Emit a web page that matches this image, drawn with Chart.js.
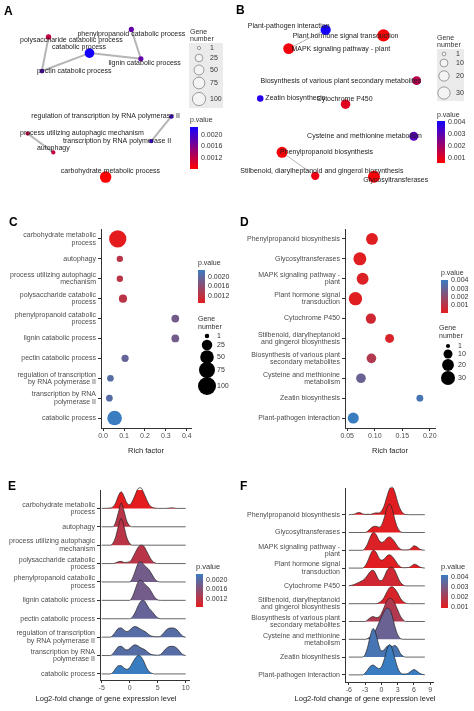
<!DOCTYPE html>
<html><head><meta charset="utf-8">
<script src="https://cdn.jsdelivr.net/npm/chart.js@4.4.1/dist/chart.umd.min.js"></script>
<style>
body{margin:0;background:#fff;width:474px;height:711px;position:relative;overflow:hidden;font-family:"Liberation Sans",Arial,sans-serif}
.p{position:absolute}
.lt{position:absolute;font:bold 12px "Liberation Sans",Arial,sans-serif;color:#000}
</style></head><body>
<div class="p" style="left:0;top:0;width:237px;height:215px"><canvas id="cA"></canvas></div>
<div class="p" style="left:237px;top:0;width:237px;height:215px"><canvas id="cB"></canvas></div>
<div class="p" style="left:0;top:215px;width:237px;height:240px"><canvas id="cC"></canvas></div>
<div class="p" style="left:237px;top:215px;width:237px;height:240px"><canvas id="cD"></canvas></div>
<div class="p" style="left:0;top:480px;width:237px;height:231px"><canvas id="cE"></canvas></div>
<div class="p" style="left:237px;top:480px;width:237px;height:231px"><canvas id="cF"></canvas></div>
<div class="lt" style="left:4px;top:4px">A</div>
<div class="lt" style="left:236px;top:3px">B</div>
<div class="lt" style="left:9px;top:215px">C</div>
<div class="lt" style="left:240px;top:215px">D</div>
<div class="lt" style="left:8px;top:479px">E</div>
<div class="lt" style="left:240px;top:479px">F</div>
<script>
// ---- GO terms (panels A, C, E)
const labelsGO = [['carbohydrate metabolic','process'],'autophagy',['process utilizing autophagic','mechanism'],
  ['polysaccharide catabolic','process'],['phenylpropanoid catabolic','process'],'lignin catabolic process',
  'pectin catabolic process',['regulation of transcription','by RNA polymerase II'],['transcription by RNA','polymerase II'],'catabolic process']
const richGO = [0.07, 0.08, 0.08, 0.095, 0.345, 0.345, 0.105, 0.035, 0.03, 0.055]
const genesGO = [90, 5, 5, 12, 10, 10, 8, 6, 6, 60]
const pvalGO = [0.0010, 0.0013, 0.0013, 0.0013, 0.0018, 0.0018, 0.0019, 0.0020, 0.0020, 0.0022]

// ---- KEGG pathways (panels B, D, F)
const labelsKEGG = ['Phenylpropanoid biosynthesis','Glycosyltransferases',['MAPK signaling pathway -','plant'],
  ['Plant hormone signal','transduction'],'Cytochrome P450',['Stilbenoid, diarylheptanoid','and gingerol biosynthesis'],
  ['Biosynthesis of various plant','secondary metabolites'],['Cysteine and methionine','metabolism'],'Zeatin biosynthesis','Plant-pathogen interaction']
const richKEGG = [0.095, 0.073, 0.078, 0.065, 0.093, 0.127, 0.094, 0.075, 0.182, 0.061]
const genesKEGG = [20, 25, 20, 27, 14, 10, 12, 12, 5, 17]
const pvalKEGG = [0.0002, 0.0002, 0.0003, 0.0002, 0.0006, 0.0004, 0.0013, 0.0030, 0.0038, 0.0041]

// ---- network layouts (A, B)
const nodeXA = [105, 50, 23, 45, 132, 142, 38, 174, 153, 88]
const nodeYA = [181, 155, 135, 33, 25, 56, 69, 117, 143, 50]
const labXA = [110, 50, 80, 69, 132, 146, 72, 105, 117, 77]
const labYA = [175, 150, 135, 36, 30, 61, 69, 117, 143, 44]
const edgesA = [[3,6],[6,9],[9,5],[5,4],[7,8],[2,1]]
const nodeXB = [278, 375, 285, 385, 345, 313, 420, 417, 255, 324]
const nodeYB = [155, 181, 45, 31, 104, 180, 79, 138, 98, 25]
const labXB = [325, 398, 340, 345, 344, 320, 340, 365, 292, 285]
const labYB = [155, 184, 45, 32, 99, 175, 79, 138, 98, 21]
const edgesB = [[9,2],[0,5]]

// ---- log2FC density ridges (E, F): [x, density]
const densGO = [
  [[-5,0],[-3.5,0.02],[-3,0.08],[-2.5,0.3],[-2,0.7],[-1.5,0.9],[-1,0.65],[-0.5,0.3],[0,0.2],[0.5,0.4],[1,0.75],[1.5,1.08],[2,1.12],[2.5,0.85],[3,0.5],[3.5,0.2],[4,0.06],[4.5,0.02],[5,0],[6.5,0],[7.5,0.03],[8.5,0],[10,0]],
  [[-5,0],[-3,0],[-2.5,0.25],[-2,0.8],[-1.5,1.3],[-1,0.85],[-0.5,0.3],[0,0.06],[0.5,0],[10,0]],
  [[-5,0],[-3.5,0],[-3,0.1],[-2.5,0.45],[-2,1.05],[-1.5,1.45],[-1,1.0],[-0.5,0.4],[0,0.1],[0.5,0],[10,0]],
  [[-5,0],[-3,0],[-2,0.1],[-1.5,0.12],[-1,0.06],[0,0.1],[0.5,0.3],[1,0.6],[1.5,0.88],[2,1.0],[2.5,0.95],[3,0.7],[3.5,0.4],[4,0.15],[4.5,0.04],[5,0],[10,0]],
  [[-5,0],[0,0],[0.5,0.2],[1,0.6],[1.5,1.0],[2,1.1],[2.5,0.95],[3,0.8],[3.5,0.65],[4,0.4],[4.5,0.15],[5,0.03],[5.5,0],[10,0]],
  [[-5,0],[0,0],[0.5,0.2],[1,0.6],[1.5,1.0],[2,1.1],[2.5,0.95],[3,0.8],[3.5,0.65],[4,0.4],[4.5,0.15],[5,0.03],[5.5,0],[10,0]],
  [[-5,0],[0,0],[0.5,0.1],[1,0.35],[1.5,0.7],[2,0.95],[2.5,1.0],[3,0.8],[3.5,0.55],[4,0.4],[4.5,0.2],[5,0.05],[5.5,0],[10,0]],
  [[-5,0],[-3.5,0],[-3,0.1],[-2.5,0.3],[-2,0.48],[-1.5,0.5],[-1,0.38],[-0.5,0.3],[0,0.38],[0.5,0.52],[1,0.58],[1.5,0.52],[2,0.42],[2.5,0.35],[3,0.25],[3.5,0.12],[4,0.05],[5,0.02],[5.5,0.05],[6,0.2],[6.5,0.38],[7,0.48],[7.5,0.5],[8,0.48],[8.5,0.38],[9,0.2],[9.5,0.05],[10,0]],
  [[-5,0],[-3.5,0],[-3,0.1],[-2.5,0.3],[-2,0.48],[-1.5,0.5],[-1,0.38],[-0.5,0.3],[0,0.38],[0.5,0.52],[1,0.58],[1.5,0.52],[2,0.42],[2.5,0.35],[3,0.25],[3.5,0.12],[4,0.05],[5,0.02],[5.5,0.05],[6,0.2],[6.5,0.38],[7,0.48],[7.5,0.5],[8,0.48],[8.5,0.38],[9,0.2],[9.5,0.05],[10,0]],
  [[-5,0],[-3.5,0],[-3,0.08],[-2.5,0.3],[-2,0.45],[-1.5,0.45],[-1,0.32],[-0.5,0.25],[0,0.35],[0.5,0.6],[1,0.85],[1.5,1.0],[2,0.95],[2.5,0.7],[3,0.35],[3.5,0.12],[4,0.03],[4.5,0],[10,0]]
]
const densKEGG = [
  [[-6,0],[-5,0.03],[-4.5,0.1],[-4,0.12],[-3.5,0.05],[-3,0.02],[-2,0.02],[-1.5,0.07],[-1,0.1],[-0.5,0.1],[0,0.2],[0.5,0.5],[1,1.0],[1.5,1.45],[2,1.55],[2.5,1.25],[3,0.7],[3.5,0.3],[4,0.08],[4.5,0.01],[5,0],[8,0]],
  [[-6,0],[-3,0],[-2.5,0.08],[-2,0.22],[-1.5,0.33],[-1,0.35],[-0.5,0.3],[0,0.4],[0.5,0.8],[1,1.35],[1.5,1.6],[2,1.3],[2.5,0.7],[3,0.25],[3.5,0.05],[4,0],[8,0]],
  [[-6,0],[-3.5,0],[-3,0.12],[-2.5,0.4],[-2,0.78],[-1.5,1.0],[-1,0.9],[-0.5,0.6],[0,0.45],[0.5,0.5],[1,0.68],[1.5,0.75],[2,0.65],[2.5,0.45],[3,0.22],[3.5,0.07],[4,0.02],[5,0.03],[5.5,0.12],[6,0.25],[6.5,0.2],[7,0.08],[7.5,0.02],[8,0]],
  [[-6,0],[-3.5,0],[-3,0.12],[-2.5,0.4],[-2,0.78],[-1.5,1.0],[-1,0.9],[-0.5,0.6],[0,0.45],[0.5,0.5],[1,0.68],[1.5,0.75],[2,0.65],[2.5,0.45],[3,0.22],[3.5,0.07],[4,0.02],[5,0.03],[5.5,0.1],[6,0.22],[6.5,0.18],[7,0.07],[7.5,0.02],[8,0]],
  [[-6,0],[-5.5,0.03],[-5,0.08],[-4.5,0.15],[-4,0.22],[-3.5,0.3],[-3,0.42],[-2.5,0.62],[-2,0.82],[-1.5,0.88],[-1,0.65],[-0.5,0.35],[0,0.3],[0.5,0.5],[1,0.85],[1.5,1.02],[2,1.05],[2.5,0.85],[3,0.5],[3.5,0.2],[4,0.05],[4.5,0],[8,0]],
  [[-6,0],[-1,0],[-0.5,0.05],[0,0.15],[0.5,0.35],[1,0.65],[1.5,0.9],[2,0.95],[2.5,0.82],[3,0.6],[3.5,0.3],[4,0.12],[4.5,0.03],[5,0],[8,0]],
  [[-6,0],[-3,0],[-2.5,0.1],[-2,0.22],[-1.5,0.28],[-1,0.22],[-0.5,0.25],[0,0.45],[0.5,0.8],[1,1.15],[1.5,1.3],[2,1.25],[2.5,1.0],[3,0.65],[3.5,0.3],[4,0.1],[4.5,0],[8,0]],
  [[-6,0],[-3,0],[-2.5,0.05],[-2,0.15],[-1.5,0.3],[-1,0.55],[-0.5,0.9],[0,1.25],[0.5,1.55],[1,1.75],[1.5,1.7],[2,1.3],[2.5,0.7],[3,0.25],[3.5,0.05],[4,0],[8,0]],
  [[-6,0],[-3.5,0],[-3,0.15],[-2.5,0.6],[-2,1.25],[-1.5,1.6],[-1,1.3],[-0.5,0.7],[0,0.35],[0.5,0.4],[1,0.6],[1.5,0.65],[2,0.6],[2.5,0.65],[3,0.5],[3.5,0.2],[4,0.05],[4.5,0],[8,0]],
  [[-6,0],[-3.5,0],[-3,0.1],[-2.5,0.3],[-2,0.5],[-1.5,0.55],[-1,0.45],[-0.5,0.35],[0,0.45],[0.5,0.85],[1,1.4],[1.5,1.7],[2,1.45],[2.5,0.9],[3,0.4],[3.5,0.12],[4,0.05],[4.5,0.05],[5,0.1],[5.5,0.22],[6,0.3],[6.5,0.22],[7,0.1],[7.5,0.03],[8,0]]
]

const ticksC = [0, 0.1, 0.2, 0.3, 0.4]
const ticksD = [0.05, 0.10, 0.15, 0.20]
const ticksE = [-5, 0, 5, 10]
const ticksF = [-6, -3, 0, 3, 6, 9]

const FONT = '"Liberation Sans", Arial, sans-serif'
Chart.defaults.font.family = FONT
Chart.defaults.animation = false

const lerp = (a, b, t) => a.map((v, k) => Math.round(v + (b[k] - v) * t))
const rgb = c => `rgb(${c[0]},${c[1]},${c[2]})`
const RED = [228, 28, 30], STEEL = [58, 124, 192]
const rampGO = p => rgb(lerp(RED, STEEL, Math.min(1, Math.max(0, (p - 0.001) / 0.0012))))
const rampKEGG = p => rgb(lerp(RED, STEEL, Math.min(1, Math.max(0, (p - 0.0001) / 0.004))))
const netGO = p => rgb(lerp([255,0,0], [20,0,255], Math.min(1, Math.max(0, (p - 0.001) / 0.0012))))
const netKEGG = p => rgb(lerp([255,0,0], [20,0,255], Math.min(1, Math.max(0, (p - 0.0001) / 0.004))))
const rGO = n => 1.5 + 0.75 * Math.sqrt(n)
const rKEGG = n => 1 + 1.1 * Math.sqrt(n)
const rNetGO = n => 1 + 0.5 * Math.sqrt(n)
const rNetKEGG = n => 1 + 1.0 * Math.sqrt(n)

function txt(ctx, s, x, y, size, align, color) {
  ctx.font = size + 'px ' + FONT
  ctx.fillStyle = color || '#333'
  ctx.textAlign = align || 'left'
  ctx.textBaseline = 'middle'
  ctx.fillText(s, x, y)
}
function colorbar(ctx, x, y0, y1, w, top, bottom, labs) {
  const g = ctx.createLinearGradient(0, y0, 0, y1)
  g.addColorStop(0, top); g.addColorStop(1, bottom)
  ctx.fillStyle = g
  ctx.fillRect(x, y0, w, y1 - y0)
  labs.forEach(l => txt(ctx, l[0], x + w + 3, l[1], 7))
}

function xAxis(min, max, vals, digits, title, h) {
  return {
    type: 'linear', min, max,
    afterBuildTicks: s => { s.ticks = vals.map(v => ({ value: v })) },
    afterFit: s => { s.height = h },
    ticks: { color: '#4d4d4d', font: { size: 7 }, padding: 1, maxRotation: 0, callback: v => digits >= 0 ? v.toFixed(digits) : String(v) },
    grid: { display: true, drawOnChartArea: false, tickLength: 3, color: '#333' },
    border: { color: '#333', width: 1 },
    title: { display: !!title, text: title, color: '#222', font: { size: 7.5 }, padding: { top: 2, bottom: 0 } }
  }
}
function yAxis(min, max, vals, cb, w, reverse) {
  return {
    type: 'linear', min, max, reverse: !!reverse,
    afterBuildTicks: s => { s.ticks = vals.map(v => ({ value: v })) },
    afterFit: s => { s.width = w },
    ticks: { color: '#4d4d4d', font: { size: 7, lineHeight: 1.05 }, padding: 2, autoSkip: false, callback: cb },
    grid: { display: true, drawOnChartArea: false, tickLength: 3, color: '#333' },
    border: { color: '#333', width: 1 }
  }
}
const idx = labelsGO.map((_, i) => i)

// ---------- network panels
function network(id, xmin, xmax, nx, ny, lx, ly, edges, labels, genes, pv, col, rad, ew, legend) {
  const names = labels.map(l => Array.isArray(l) ? l.join(' ') : l)
  const edgeSets = edges.map(e => ({
    type: 'line', data: e.map(k => ({ x: nx[k], y: ny[k] })), borderColor: '#b5b5b5', borderWidth: ew,
    pointRadius: 0, order: 5
  }))
  new Chart(document.getElementById(id), {
    type: 'bubble',
    data: { datasets: [...edgeSets, {
      data: nx.map((x, i) => ({ x, y: ny[i], r: rad(genes[i]) })),
      backgroundColor: pv.map(col), borderWidth: 0, order: 1
    }] },
    options: {
      responsive: true, maintainAspectRatio: false,
      plugins: { legend: { display: false }, tooltip: { enabled: false } },
      layout: { padding: 0 },
      scales: { x: { display: false, min: xmin, max: xmax }, y: { display: false, min: 0, max: 215, reverse: true } }
    },
    plugins: [{ id: 'lab', afterDatasetsDraw(c) {
      const ctx = c.ctx, sx = c.scales.x, sy = c.scales.y
      names.forEach((n, i) => txt(ctx, n, sx.getPixelForValue(lx[i]), sy.getPixelForValue(ly[i]), 7, 'center', '#222'))
      legend(ctx)
    } }]
  })
}
network('cA', 0, 237, nodeXA, nodeYA, labXA, labYA, edgesA, labelsGO, genesGO, pvalGO, netGO, rNetGO, 2, ctx => {
  txt(ctx, 'Gene', 190, 32, 7); txt(ctx, 'number', 190, 39, 7)
  ctx.fillStyle = '#ebebeb'; ctx.fillRect(189, 43, 34, 65)
  ;[[1,48],[25,58],[50,70],[75,83],[100,99]].forEach(([n, y]) => {
    ctx.beginPath(); ctx.arc(199, y, rNetGO(n) * 1.1, 0, 7); ctx.fillStyle = '#f4f4f4'; ctx.fill()
    ctx.strokeStyle = '#777'; ctx.lineWidth = 0.7; ctx.stroke(); txt(ctx, String(n), 210, y, 7)
  })
  txt(ctx, 'p.value', 190, 120, 7)
  colorbar(ctx, 190, 127, 169, 8, netGO(0.0022), netGO(0.001), [['0.0020', 135], ['0.0016', 146], ['0.0012', 158]])
})
network('cB', 237, 474, nodeXB, nodeYB, labXB, labYB, edgesB, labelsKEGG, genesKEGG, pvalKEGG, netKEGG, rNetKEGG, 1, ctx => {
  txt(ctx, 'Gene', 200, 38, 7); txt(ctx, 'number', 200, 45, 7)
  ctx.fillStyle = '#ebebeb'; ctx.fillRect(200, 49, 27, 52)
  ;[[1,54],[10,63],[20,76],[30,93]].forEach(([n, y]) => {
    ctx.beginPath(); ctx.arc(207, y, rNetKEGG(n) * 0.95, 0, 7); ctx.fillStyle = '#f4f4f4'; ctx.fill()
    ctx.strokeStyle = '#777'; ctx.lineWidth = 0.7; ctx.stroke(); txt(ctx, String(n), 219, y, 7)
  })
  txt(ctx, 'p.value', 200, 115, 7)
  colorbar(ctx, 200, 121, 163, 8, netKEGG(0.0041), netKEGG(0.0001), [['0.004', 122], ['0.003', 134], ['0.002', 146], ['0.001', 158]])
})

// ---------- dot plots
function dots(id, labels, rich, genes, pv, ramp, rad, xmin, xmax, xt, dg, w, right, legend) {
  new Chart(document.getElementById(id), {
    type: 'bubble',
    data: { datasets: [{ data: rich.map((x, i) => ({ x, y: i, r: rad(genes[i]) })), backgroundColor: pv.map(ramp), borderWidth: 0 }] },
    options: {
      responsive: true, maintainAspectRatio: false, clip: false,
      plugins: { legend: { display: false }, tooltip: { enabled: false } },
      layout: { padding: { left: 0, right, top: 14, bottom: 0 } },
      scales: { x: xAxis(xmin, xmax, xt, dg, 'Rich factor', 27), y: yAxis(-0.5, 9.5, idx, v => labels[v], w, true) }
    },
    plugins: [{ id: 'leg', afterDraw(c) { legend(c.ctx) } }]
  })
}
function sizeLegend(ctx, x, ty, ents, rad) {
  txt(ctx, 'Gene', x - 9, ty, 7); txt(ctx, 'number', x - 9, ty + 8, 7)
  ents.forEach(([n, y]) => {
    ctx.beginPath(); ctx.arc(x, y, rad(n), 0, 7); ctx.fillStyle = '#000'; ctx.fill()
    txt(ctx, String(n), x + 10, y, 7)
  })
}
dots('cC', labelsGO, richGO, genesGO, pvalGO, rampGO, rGO, -0.01, 0.42, ticksC, 1, 101, 46, ctx => {
  txt(ctx, 'p.value', 198, 48, 7)
  colorbar(ctx, 198, 55, 88, 7, rampGO(0.0022), rampGO(0.001), [['0.0020', 62], ['0.0016', 71], ['0.0012', 81]])
  sizeLegend(ctx, 207, 104, [[1,121],[25,130],[50,142],[75,155],[100,171]], rGO)
})
dots('cD', labelsKEGG, richKEGG, genesKEGG, pvalKEGG, rampKEGG, rKEGG, 0.046, 0.2095, ticksD, 2, 108, 39, ctx => {
  txt(ctx, 'p.value', 204, 58, 7)
  colorbar(ctx, 204, 65, 98, 7, rampKEGG(0.0041), rampKEGG(0.0001), [['0.004', 65], ['0.003', 74], ['0.002', 82], ['0.001', 90]])
  sizeLegend(ctx, 211, 113, [[1,131],[10,139],[20,150],[30,163]], rKEGG)
})

// ---------- ridgelines
function ridges(id, labels, dens, pv, ramp, xmin, xmax, xt, ymin, ymax, w, right, top, h, titleX, legend) {
  const n = labels.length
  const rows = labels.map((_, i) => n - i)
  new Chart(document.getElementById(id), {
    type: 'line',
    data: { datasets: dens.map((d, i) => ({
      data: d.map(([x, v]) => ({ x, y: rows[i] + v })),
      fill: { value: rows[i] }, backgroundColor: ramp(pv[i]), borderColor: '#222', borderWidth: 0.7,
      pointRadius: 0, cubicInterpolationMode: 'monotone', order: n - 1 - i
    })) },
    options: {
      responsive: true, maintainAspectRatio: false, clip: false,
      plugins: { legend: { display: false }, tooltip: { enabled: false } },
      layout: { padding: { left: 0, right, top, bottom: 0 } },
      scales: {
        x: xAxis(xmin, xmax, xt, -1, '', h),
        y: yAxis(ymin, ymax, rows, v => labels[n - v], w)
      }
    },
    plugins: [{ id: 'leg', afterDraw(c) {
      txt(c.ctx, 'Log2-fold change of gene expression level', titleX, 219, 7.5, 'center', '#222')
      legend(c.ctx)
    } }]
  })
}
ridges('cE', labelsGO, densGO, pvalGO, rampGO, -5.3, 10.6, ticksE, 0.67, 11, 100, 48, 10, 31, 106, ctx => {
  txt(ctx, 'p.value', 196, 87, 7.5)
  colorbar(ctx, 196, 94, 127, 7, rampGO(0.0022), rampGO(0.001), [['0.0020', 100], ['0.0016', 109], ['0.0012', 119]])
})
ridges('cF', labelsKEGG, densKEGG, pvalKEGG, rampKEGG, -6.7, 9.5, ticksF, 0.6, 11.5, 108, 41, 8, 29, 128, ctx => {
  txt(ctx, 'p.value', 204, 87, 7.5)
  colorbar(ctx, 204, 95, 128, 7, rampKEGG(0.0041), rampKEGG(0.0001), [['0.004', 97], ['0.003', 107], ['0.002', 117], ['0.001', 127]])
})
</script>
</body></html>
